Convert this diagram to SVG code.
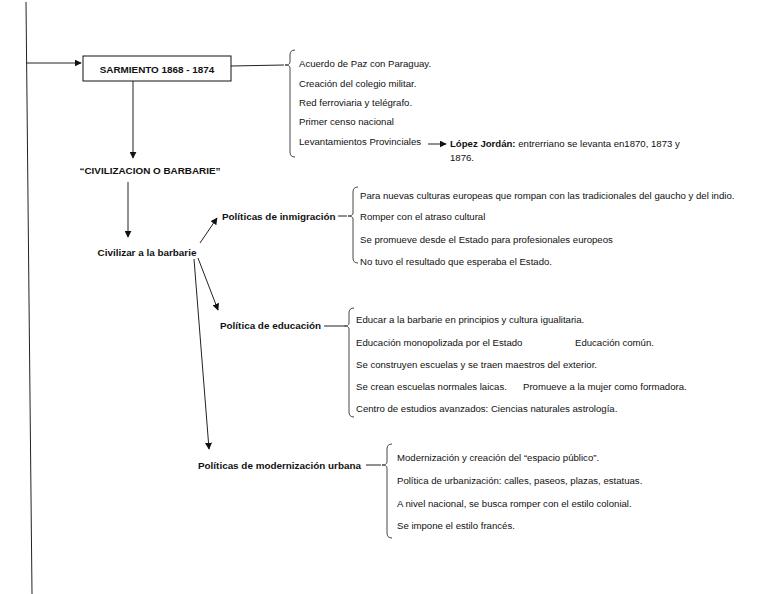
<svg xmlns="http://www.w3.org/2000/svg" width="768" height="594" viewBox="0 0 768 594">
<style>
.t{font-family:"Liberation Sans",Arial,sans-serif;font-size:9.6px;fill:#111}
.b{font-family:"Liberation Sans",Arial,sans-serif;font-size:9.9px;font-weight:bold;fill:#111}
.ln{stroke:#222;stroke-width:1;fill:none}
.br{stroke:#333;stroke-width:0.9;fill:none}
</style>
<defs>
<marker id="ah" viewBox="0 0 10 10" refX="9" refY="5" markerWidth="7" markerHeight="7" markerUnits="userSpaceOnUse" orient="auto">
<path d="M0,0 L10,5 L0,10 z" fill="#111"/>
</marker>
</defs>
<g id="connectors">
<path class="ln" d="M26,2 L32,594"/>
<path class="ln" d="M26,63 L81,63" marker-end="url(#ah)"/>
<path class="ln" d="M231,66 L284,65"/>
<path class="ln" d="M133,81 L133,158" marker-end="url(#ah)"/>
<path class="ln" d="M128,182 L128,237" marker-end="url(#ah)"/>
<path class="ln" d="M200,243 L217,218" marker-end="url(#ah)"/>
<path class="ln" d="M198,258 L218,310" marker-end="url(#ah)"/>
<path class="ln" d="M194,259 L209,449" marker-end="url(#ah)"/>
<path class="ln" d="M428,144 L446,144" marker-end="url(#ah)"/>
<path class="ln" d="M338,216 L347,216"/>
<path class="ln" d="M324,326 L344,326"/>
<path class="ln" d="M366,465 L381,465"/>
</g>
<g id="n-sarmiento">
<rect x="83" y="56" width="148" height="25" fill="#fff" stroke="#111" stroke-width="1"/>
<text class="b" x="157" y="72.5" text-anchor="middle" font-size="10.2">SARMIENTO 1868 - 1874</text>
</g>
<g id="n-logros">
<path class="br" d="M295,50 q-5,0 -5,5 L290,62 q0,3 -5,3 q5,0 5,3 L290,152 q0,5 5,5"/>
<text class="t" x="299" y="67">Acuerdo  de Paz con Paraguay.</text>
<text class="t" x="299" y="87">Creación del colegio militar.</text>
<text class="t" x="299" y="106">Red ferroviaria y telégrafo.</text>
<text class="t" x="299" y="125">Primer censo nacional</text>
<text class="t" x="299" y="145">Levantamientos Provinciales</text>
</g>
<g id="n-lopez">
<text class="t" x="450" y="147"><tspan font-weight="bold">López Jordán:</tspan> entrerriano se levanta en1870, 1873 y</text>
<text class="t" x="450" y="161">1876.</text>
</g>
<g id="n-civ">
<text class="b" x="150" y="173.5" text-anchor="middle">“CIVILIZACION O BARBARIE”</text>
</g>
<g id="n-civilizar">
<text class="b" x="147" y="255.5" text-anchor="middle">Civilizar a la barbarie</text>
</g>
<g id="n-inmigracion">
<text class="b" x="222" y="219.5">Políticas de inmigración</text>
<path class="br" d="M358,187 q-5,0 -5,5 L353,213 q0,3 -5,3 q5,0 5,3 L353,258 q0,5 5,5"/>
<text class="t" x="360" y="199">Para nuevas culturas europeas que rompan con las tradicionales del gaucho y del indio.</text>
<text class="t" x="360" y="220">Romper con el atraso cultural</text>
<text class="t" x="360" y="243">Se promueve desde el Estado para profesionales europeos</text>
<text class="t" x="360" y="265">No tuvo el resultado que esperaba el Estado.</text>
</g>
<g id="n-educacion">
<text class="b" x="220" y="328.5">Política de educación</text>
<path class="br" d="M354,308 q-5,0 -5,5 L349,323 q0,3 -5,3 q5,0 5,3 L349,412 q0,5 5,5"/>
<text class="t" x="356" y="323">Educar a la barbarie en principios y cultura igualitaria.</text>
<text class="t" x="356" y="346">Educación monopolizada por el Estado</text>
<text class="t" x="575" y="346">Educación común.</text>
<text class="t" x="356" y="368">Se construyen escuelas y se traen maestros del exterior.</text>
<text class="t" x="356" y="390">Se crean escuelas normales laicas.</text>
<text class="t" x="523" y="390">Promueve a la mujer como formadora.</text>
<text class="t" x="356" y="412">Centro de estudios avanzados: Ciencias naturales astrología.</text>
</g>
<g id="n-urbana">
<text class="b" x="198" y="468.5">Políticas de modernización urbana</text>
<path class="br" d="M392,444 q-5,0 -5,5 L387,462 q0,3 -5,3 q5,0 5,3 L387,533 q0,5 5,5"/>
<text class="t" x="397" y="461">Modernización y creación del “espacio público”.</text>
<text class="t" x="397" y="484">Política de urbanización: calles, paseos, plazas, estatuas.</text>
<text class="t" x="397" y="507">A nivel nacional, se busca romper con el estilo colonial.</text>
<text class="t" x="397" y="529">Se impone el estilo francés.</text>
</g>
</svg>
